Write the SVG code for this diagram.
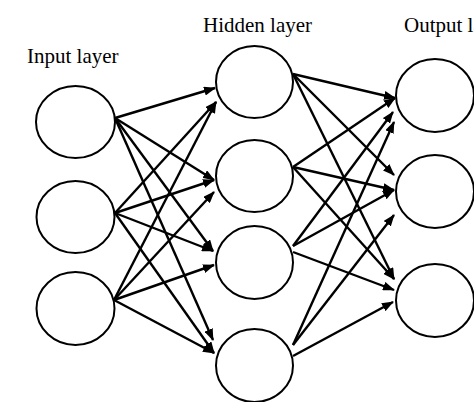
<svg xmlns="http://www.w3.org/2000/svg" width="474" height="402" viewBox="0 0 474 402">
<defs>
<style>
.node{fill:#fff;stroke:#000;stroke-width:2}
.edge{stroke:#000;stroke-width:2.4;fill:none;marker-end:url(#ah)}
.lbl{font-family:"Liberation Serif","Times New Roman",serif;font-size:21px;fill:#000}
</style>
<marker id="ah" markerUnits="userSpaceOnUse" viewBox="0 0 12 9" markerWidth="12" markerHeight="9" refX="11" refY="4.5" orient="auto">
<path d="M0,0 L12,4.5 L0,9 z" fill="#000"/>
</marker>
</defs>
<rect width="474" height="402" fill="#fff"/>
<g id="labels">
<text class="lbl" x="27" y="63">Input layer</text>
<text class="lbl" x="203" y="32">Hidden layer</text>
<text class="lbl" x="404" y="32">Output layer</text>
</g>
<g id="connectors">
<line class="edge" x1="115" y1="118" x2="215" y2="88"/>
<line class="edge" x1="115" y1="118" x2="214" y2="180"/>
<line class="edge" x1="115" y1="118" x2="213" y2="251"/>
<line class="edge" x1="115" y1="118" x2="213" y2="340"/>
<line class="edge" x1="115" y1="213" x2="216" y2="102"/>
<line class="edge" x1="115" y1="213" x2="214" y2="180"/>
<line class="edge" x1="115" y1="213" x2="213" y2="251"/>
<line class="edge" x1="115" y1="213" x2="214" y2="353"/>
<line class="edge" x1="114" y1="300" x2="216" y2="102"/>
<line class="edge" x1="114" y1="300" x2="214" y2="192"/>
<line class="edge" x1="114" y1="300" x2="214" y2="265"/>
<line class="edge" x1="114" y1="300" x2="214" y2="353"/>
<line class="edge" x1="293" y1="74" x2="395" y2="98"/>
<line class="edge" x1="293" y1="74" x2="394" y2="175"/>
<line class="edge" x1="293" y1="74" x2="394" y2="279"/>
<line class="edge" x1="293" y1="167" x2="395" y2="98"/>
<line class="edge" x1="293" y1="167" x2="394" y2="190"/>
<line class="edge" x1="293" y1="167" x2="394" y2="279"/>
<line class="edge" x1="293" y1="246" x2="393" y2="112"/>
<line class="edge" x1="293" y1="246" x2="394" y2="190"/>
<line class="edge" x1="293" y1="252" x2="394" y2="290"/>
<line class="edge" x1="293" y1="345" x2="394" y2="122"/>
<line class="edge" x1="293" y1="345" x2="394" y2="215"/>
<line class="edge" x1="293" y1="356" x2="393" y2="302"/>
</g>
<g id="input1"><ellipse class="node" cx="75.5" cy="122" rx="39.5" ry="36"/></g>
<g id="input2"><ellipse class="node" cx="75.5" cy="217" rx="39" ry="36"/></g>
<g id="input3"><ellipse class="node" cx="75.5" cy="308.5" rx="39" ry="36.5"/></g>
<g id="hidden1"><ellipse class="node" cx="254.5" cy="82" rx="38.5" ry="36"/></g>
<g id="hidden2"><ellipse class="node" cx="254.5" cy="176" rx="38.5" ry="36"/></g>
<g id="hidden3"><ellipse class="node" cx="254.5" cy="262.5" rx="38.5" ry="36.5"/></g>
<g id="hidden4"><ellipse class="node" cx="254.5" cy="365.5" rx="38.5" ry="36.5"/></g>
<g id="output1"><ellipse class="node" cx="435" cy="95.5" rx="39" ry="36.5"/></g>
<g id="output2"><ellipse class="node" cx="435" cy="191.5" rx="39" ry="36.5"/></g>
<g id="output3"><ellipse class="node" cx="435" cy="300.5" rx="39" ry="36.5"/></g>
</svg>
